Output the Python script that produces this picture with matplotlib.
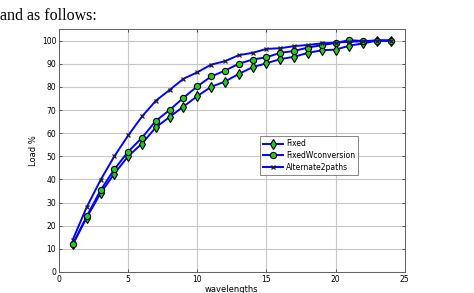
import numpy as np
import matplotlib
matplotlib.use('Agg')
import matplotlib.pyplot as plt

# values
wavelengths = list(range(1, 25))
fixed = [12, 23.5, 34, 42.5, 50, 55.5, 62.5, 67, 71.5, 76, 80, 82.3,
         85.6, 88.5, 90.2, 92, 93, 94.7, 95.8, 96.1, 97.8, 98.8, 100, 100]
fixed_wconv = [12, 24, 35.3, 44.4, 52, 58, 65.3, 70, 75.3, 80.2, 84.5, 87,
               90, 91.8, 92.8, 94.7, 95.5, 97, 98, 99, 100.2, 99.8, 100, 100]
alternate = [14, 28, 39.7, 50, 59, 67.2, 74, 78.7, 83.5, 86.3, 89.6, 91.1,
             93.7, 94.7, 96.4, 96.7, 97.6, 98.1, 98.8, 99.1, 99.5, 99.7, 100, 100]
series_labels = ['Fixed', 'FixedWconversion', 'Alternate2paths']
x_ticks = [0, 5, 10, 15, 20, 25]
y_ticks = list(range(0, 101, 10))

fig = plt.figure(figsize=(4.74, 2.93), dpi=100)
ax = fig.add_axes([0.1245, 0.0717, 0.7295, 0.8293])

# surrounding document text
fig.text(0.0, 0.932, 'and as follows:', family='Liberation Serif',
         fontsize=11.5, color='black')

ax.plot(wavelengths, fixed, color='#0000ff', lw=1.4, marker='d',
        markersize=5, markerfacecolor='#22cc22', markeredgecolor='black',
        markeredgewidth=0.8, label=series_labels[0])
ax.plot(wavelengths, fixed_wconv, color='#0000ff', lw=1.4, marker='o',
        markersize=4.5, markerfacecolor='#22cc22', markeredgecolor='black',
        markeredgewidth=0.8, label=series_labels[1])
ax.plot(wavelengths, alternate, color='#0000ff', lw=1.4, marker='x',
        markersize=3.5, markeredgecolor='#202020', markeredgewidth=0.9,
        label=series_labels[2])

ax.set_xlim(0, 25)
ax.set_ylim(0, 105)
ax.set_xticks(x_ticks)
ax.set_yticks(y_ticks)
ax.tick_params(direction='in', length=2.5, width=0.6, labelsize=5.5,
               top=True, right=True, pad=2, color='#404040')
ax.grid(True, color='#c8c8c8', lw=0.8)
ax.set_axisbelow(True)
for s in ax.spines.values():
    s.set_color('#606060')
    s.set_linewidth(0.7)

ax.set_xlabel('wavelengths', fontsize=6, labelpad=1)
ax.set_ylabel('Load %', fontsize=6, labelpad=3)

leg = ax.legend(loc='upper left', bbox_to_anchor=(0.58, 0.56), fontsize=5.5,
                frameon=True, fancybox=False, borderpad=0.45,
                handlelength=2.6, labelspacing=0.35, handletextpad=0.4,
                borderaxespad=0)
leg.get_frame().set_edgecolor('#505050')
leg.get_frame().set_linewidth(0.6)

fig.savefig('out.png', dpi=100)
